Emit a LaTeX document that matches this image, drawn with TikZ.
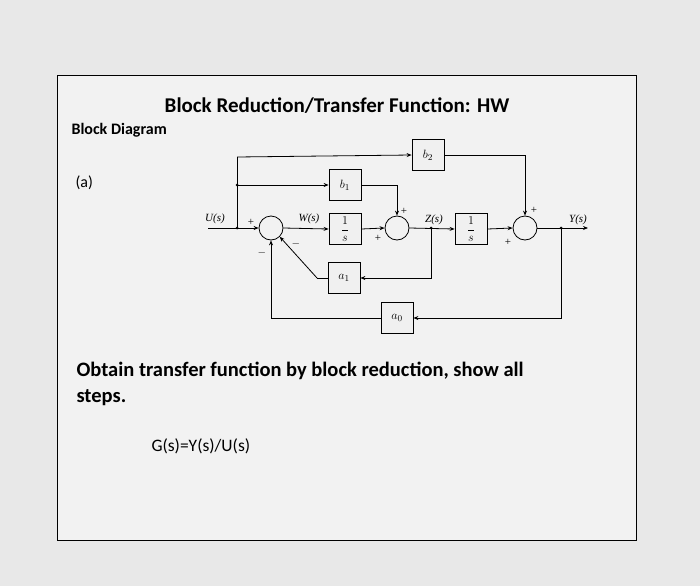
\documentclass[tikz,border=0pt]{standalone}
\usepackage{fontspec}
\setmainfont{Carlito}
\newfontfamily\dfont{Liberation Serif}
\usetikzlibrary{arrows.meta}
\newcommand{\fsz}[1]{\fontsize{#1}{#1}\selectfont}
\begin{document}
\begin{tikzpicture}[x=1pt,y=-1pt,
  blk/.style={draw,line width=0.8pt,minimum width=32pt,minimum height=31pt,inner sep=0pt,font=\dfont\itshape\fsz{13},fill=white!94!black},
  sumj/.style={draw,line width=0.8pt,circle,minimum size=24pt,inner sep=0pt},
  sig/.style={line width=0.8pt,-{Stealth[length=5pt,width=4pt]}},
  ln/.style={line width=0.8pt},
  lab/.style={font=\dfont\itshape\fsz{11}},
  sg/.style={font=\dfont\fsz{11},inner sep=0pt}]
\useasboundingbox (0,0) rectangle (700,586);
\fill[black!9] (0,0) rectangle (700,586);
\fill[black!5] (57,75) rectangle (636,540);
\draw[line width=1pt] (57,75) rectangle (636,540);
\node[font=\bfseries\fsz{21}] (title) at (337,106) {Block Reduction/Transfer Function: HW};
\node[anchor=west,font=\bfseries\fsz{16}] (bd) at (68,130) {Block Diagram};
\node[anchor=west,font=\fsz{16}] (a) at (72,183) {(a)};
\node[anchor=west,font=\bfseries\fsz{20.5},align=left] (ob) at (73,384) {Obtain transfer function by block reduction, show all\\[6pt]steps.};
\node[anchor=west,font=\fsz{17.5}] (g) at (148,446) {G(s)=Y(s)/U(s)};
% blocks
\node[sumj] (s1) at (271,228) {};
\node[sumj] (s2) at (397,228) {};
\node[sumj] (s3) at (525,228) {};
\node[blk] (i1) at (345,229) {$\displaystyle\frac{1}{s}$};
\node[blk] (i2) at (471,229) {$\displaystyle\frac{1}{s}$};
\node[blk] (b1) at (345,185) {$b_1$};
\node[blk] (b2) at (428,155) {$b_2$};
\node[blk] (a1) at (344,278) {$a_1$};
\node[blk] (a0) at (397,318) {$a_0$};
\coordinate (u0) at (208,228);
\coordinate (ub) at (237,228);
\coordinate (zb) at (431,228);
\coordinate (yb) at (561,228);
\coordinate (y0) at (588,228);
\coordinate (a1l) at (317,278);
% main path
\draw[ln] (u0) -- (ub);
\draw[sig] (ub) -- (s1.west);
\draw[sig] (s1.east) -- (i1.west);
\draw[sig] (i1.east) -- (s2.west);
\draw[sig] (s2.east) -- (i2.west);
\draw[sig] (i2.east) -- (s3.west);
\draw[sig] (s3.east) -- (y0);
% feedforward
\draw[ln] (ub) -- (237,157);
\draw[sig] (237,157) -- (b2.west);
\draw[sig] (b2.east) -| (s3.north);
\draw[sig] (237,185) -- (b1.west);
\draw[sig] (b1.east) -| (s2.north);
\fill (ub) circle (1.5pt) (237,185) circle (1.5pt) (zb) circle (1.5pt) (yb) circle (1.5pt);
% feedback
\draw[sig] (zb) |- (a1.east);
\draw[ln] (a1.west) -- (a1l);
\draw[sig] (a1l) -- (s1.south east);
\draw[sig] (yb) |- (a0.east);
\draw[sig] (a0.west) -| (s1.south);
% labels
\node[lab] (lu) at (215,219) {U(s)};
\node[lab] (lw) at (309,219) {W(s)};
\node[lab] (lz) at (434,220) {Z(s)};
\node[lab] (ly) at (578,220) {Y(s)};
\node[sg] at (251,222) {+};
\node[sg] at (262,253) {$-$};
\node[sg] at (296,244) {$-$};
\node[sg] at (404,211) {+};
\node[sg] at (378,238) {+};
\node[sg] at (534,210) {+};
\node[sg] at (508,242) {+};
\end{tikzpicture}
\end{document}
